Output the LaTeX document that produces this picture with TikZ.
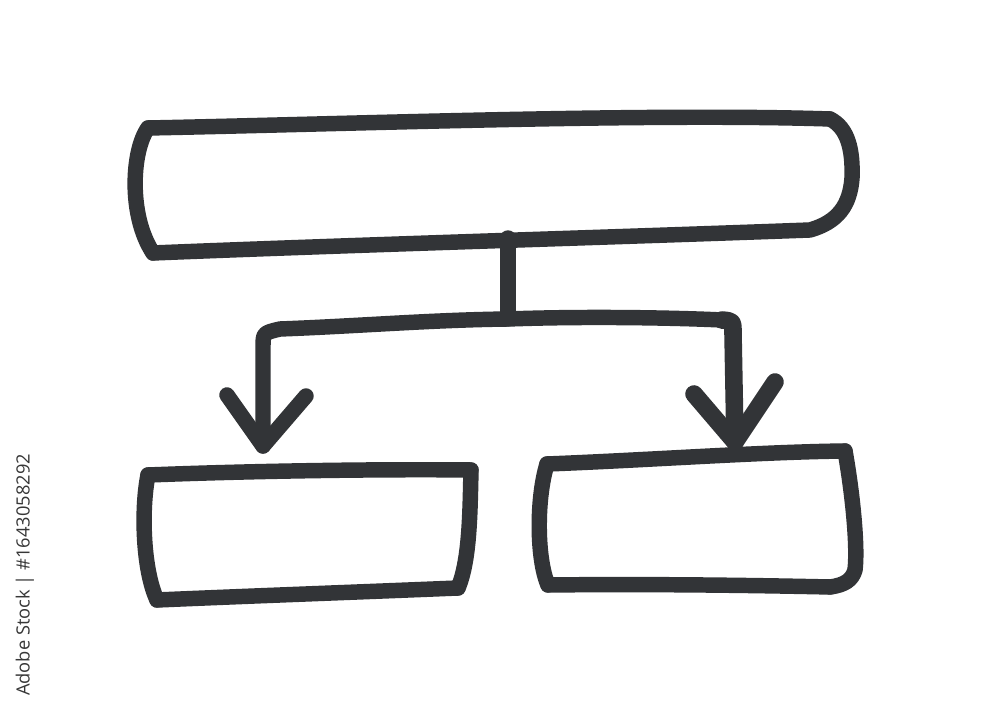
\documentclass[tikz,border=0pt]{standalone}
\usepackage{fontspec}
\newfontfamily\stockfont{Open Sans}
\definecolor{marker}{RGB}{50,52,55}
\definecolor{stockgrey}{RGB}{55,55,55}
\begin{document}
\begin{tikzpicture}[x=0.01cm,y=-0.01cm,
  pen/.style={draw=marker,line width=4.4pt,line cap=round,line join=round},
  thickpen/.style={pen,line width=5pt},
  stocktext/.style={rotate=90,text=stockgrey,inner sep=0pt,font=\stockfont\fontsize{5.2}{6}\selectfont}]
\useasboundingbox (0,0) rectangle (1000,707);
\fill[white] (0,0) rectangle (1000,707);

% ---------- top box (hand drawn) ----------
\draw[pen] (148,128) .. controls (350,124) and (650,113) .. (830,119);
\draw[pen] (830,119) .. controls (848,128) and (853,150) .. (852,178)
           .. controls (850,205) and (838,222) .. (810,230)
           .. controls (620,237) and (350,245) .. (153,253);
\draw[pen] (148,128) .. controls (132,150) and (128,215) .. (153,253);

% ---------- lower left box ----------
\draw[pen] (148,475) .. controls (250,471) and (380,469) .. (471,470);
\draw[pen] (471,470) .. controls (470,510) and (470,560) .. (458,588);
\draw[pen] (458,588) .. controls (360,592) and (250,596) .. (157,600);
\draw[pen] (157,600) .. controls (143,570) and (141,510) .. (148,475);

% ---------- lower right box ----------
\draw[pen] (547,464) .. controls (650,460) and (760,452) .. (845,451);
\draw[pen] (845,451) .. controls (852,490) and (858,545) .. (855,570)
           .. controls (852,580) and (845,585) .. (830,587);
\draw[pen] (830,587) .. controls (740,585) and (640,584) .. (548,585);
\draw[pen] (548,585) .. controls (537,560) and (536,500) .. (547,464);

% ---------- connectors ----------
\coordinate (stemtop) at (508,238);
\coordinate (split) at (508,319);
\coordinate (lcorner) at (263,333);
\coordinate (lcornerA) at (263,348);
\coordinate (lcornerB) at (280,329);
\coordinate (rcornerA) at (722,320);
\coordinate (rcorner) at (733,321);
\coordinate (rcornerB) at (733,333);
\coordinate (ltip) at (263,446);
\coordinate (rtip) at (735,442);
\coordinate (larmL) at (227,395);
\coordinate (larmR) at (306,396);
\coordinate (rarmL) at (694,394);
\coordinate (rarmR) at (775,382);

\draw[pen] (stemtop) -- (split);
\draw[pen] (ltip) -- (lcornerA) .. controls (lcorner) .. (lcornerB)
           .. controls (360,326) and (430,320) .. (split)
           .. controls (590,316) and (680,318) .. (rcornerA);
\draw[thickpen] (rcornerA) .. controls (rcorner) .. (rcornerB) -- (rtip);
\draw[pen] (larmL) -- (ltip) -- (larmR);
\draw[thickpen] (rarmL) -- (rtip) -- (rarmR);

% ---------- stock id ----------
\node[stocktext] (stock) at (25,575) {Adobe Stock | \#1643058292};
\end{tikzpicture}
\end{document}
